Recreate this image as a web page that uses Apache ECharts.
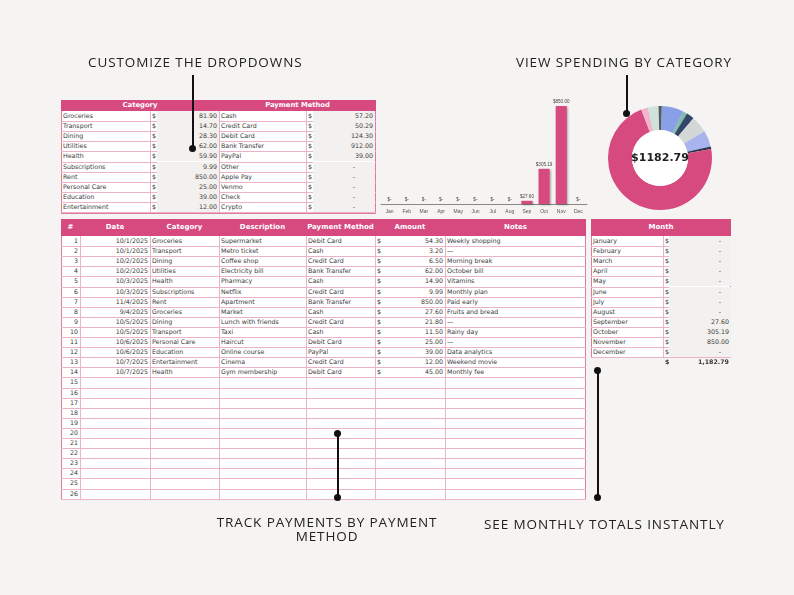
<!DOCTYPE html>
<html><head><meta charset="utf-8">
<script src="https://cdn.jsdelivr.net/npm/echarts@6/dist/echarts.min.js"></script>
<style>
body{margin:0;background:#f6f4f2;width:794px;height:595px;overflow:hidden;font-family:"DejaVu Sans",Verdana,sans-serif;-webkit-font-smoothing:antialiased;}
#chart{position:absolute;left:0;top:0;width:794px;height:595px;}
.t{position:absolute;font-family:"Open Sans",sans-serif;font-size:13.5px;color:#222;letter-spacing:0.9px;}
.c{position:absolute;font-size:6.3px;color:#3a3a3a;white-space:nowrap;overflow:hidden;line-height:10px;box-sizing:border-box;padding:0 2px;}
.h{position:absolute;background:#d64a80;color:#fff;font-weight:bold;font-size:6.8px;text-align:center;box-sizing:border-box;}
.g{position:absolute;background:#fff;box-sizing:border-box;border:1px solid #e07aa0;}
.hl{position:absolute;height:1px;background:#eab3c8;}
.vl{position:absolute;width:1px;background:#eab3c8;}
.ln{position:absolute;width:2px;background:#111;}
.dot{position:absolute;width:7px;height:7px;border-radius:50%;background:#111;}
</style></head><body>
<div id="chart"></div>
<div id="ov"></div>
<script>
const categories=["Groceries","Transport","Dining","Utilities","Health","Subscriptions","Rent","Personal Care","Education","Entertainment"];
const categoryTotals=[81.90,14.70,28.30,62.00,59.90,9.99,850.00,25.00,39.00,12.00];
const payMethods=["Cash","Credit Card","Debit Card","Bank Transfer","PayPal","Other","Apple Pay","Venmo","Check","Crypto"];
const payTotals=[57.20,50.29,124.30,912.00,39.00,0,0,0,0,0];
const months=["January","February","March","April","May","June","July","August","September","October","November","December"];
const monthShort=["Jan","Feb","Mar","Apr","May","Jun","Jul","Aug","Sep","Oct","Nov","Dec"];
const monthTotals=[0,0,0,0,0,0,0,0,27.60,305.19,850.00,0];
const txDates=["10/1/2025","10/1/2025","10/2/2025","10/2/2025","10/3/2025","10/3/2025","11/4/2025","9/4/2025","10/5/2025","10/5/2025","10/6/2025","10/6/2025","10/7/2025","10/7/2025"];
const txCats=["Groceries","Transport","Dining","Utilities","Health","Subscriptions","Rent","Groceries","Dining","Transport","Personal Care","Education","Entertainment","Health"];
const txDesc=["Supermarket","Metro ticket","Coffee shop","Electricity bill","Pharmacy","Netflix","Apartment","Market","Lunch with friends","Taxi","Haircut","Online course","Cinema","Gym membership"];
const txPay=["Debit Card","Cash","Credit Card","Bank Transfer","Cash","Credit Card","Bank Transfer","Cash","Credit Card","Cash","Debit Card","PayPal","Credit Card","Debit Card"];
const txAmt=[54.30,3.20,6.50,62.00,14.90,9.99,850.00,27.60,21.80,11.50,25.00,39.00,12.00,45.00];
const txNotes=["Weekly shopping","—","Morning break","October bill","Vitamins","Monthly plan","Paid early","Fruits and bread","—","Rainy day","—","Data analytics","Weekend movie","Monthly fee"];
const sliceColors=["#8aa0e6","#7fbfa8","#34476b","#d3d8d6","#a9b4ee","#2c3550","#d64a80","#f2b6cc","#cfe3dc","#555b5e"];

const ov=document.getElementById('ov');
function el(cls,x,y,w,h,txt,extra){const d=document.createElement('div');d.className=cls;d.style.left=x+'px';d.style.top=y+'px';if(w!=null)d.style.width=w+'px';if(h!=null)d.style.height=h+'px';if(txt!=null)d.textContent=txt;if(extra)Object.assign(d.style,extra);ov.appendChild(d);return d;}
const fmt=v=>v?v.toLocaleString('en-US',{minimumFractionDigits:2,maximumFractionDigits:2}):'-';

(function(){const x0=61,y0=100,w=315,rh=10.1;el('g',x0,y0,w,11+rh*10+2);
el('h',x0,y0,158,11,'Category',{lineHeight:'11px'});el('h',x0+158,y0,157,11,'Payment Method',{lineHeight:'11px'});
for(let i=0;i<10;i++){const y=y0+11+i*rh;el('hl',x0,y+rh,w,null);
el('c',x0,y,89,rh,categories[i]);el('c',x0+89,y,20,rh,'$');el('c',x0+96,y,62,rh,fmt(categoryTotals[i]),{textAlign:'right',background:'#f3f1f0'});
el('c',x0+158,y,87,rh,payMethods[i]);el('c',x0+245,y,20,rh,'$');el('c',x0+252,y,62,rh,fmt(payTotals[i]),{textAlign:'right',paddingRight:payTotals[i]?'2px':'20px',background:'#f3f1f0'});}
[89,158,245].forEach(o=>el('vl',x0+o,y0+11,null,rh*10));})();

(function(){const x0=61,y0=219,w=525,hh=17,rh=10.1;el('g',x0,y0,w,hh+rh*26+1);
const cols=[0,19,89,158,245,314,384,525];const heads=['#','Date','Category','Description','Payment Method','Amount','Notes'];
heads.forEach((t,i)=>el('h',x0+cols[i],y0,cols[i+1]-cols[i],hh,t,{lineHeight:hh+'px',fontSize:'7px'}));
for(let i=0;i<26;i++){const y=y0+hh+i*rh;el('hl',x0,y+rh,w,null);
el('c',x0,y,19,rh,String(i+1),{textAlign:'right'});
if(i<14){el('c',x0+19,y,70,rh,txDates[i],{textAlign:'right'});el('c',x0+89,y,69,rh,txCats[i]);el('c',x0+158,y,87,rh,txDesc[i]);el('c',x0+245,y,69,rh,txPay[i]);
el('c',x0+314,y,20,rh,'$');el('c',x0+320,y,64,rh,fmt(txAmt[i]),{textAlign:'right'});el('c',x0+384,y,141,rh,txNotes[i]);}}
cols.slice(1,7).forEach(o=>el('vl',x0+o,y0+hh,null,rh*26));})();

(function(){const x0=591,y0=219,w=140,hh=17,rh=10.1;el('g',x0,y0,w,hh+rh*12+1);
el('h',x0,y0,w,hh,'Month',{lineHeight:hh+'px',fontSize:'7px'});
for(let i=0;i<12;i++){const y=y0+hh+i*rh;el('hl',x0,y+rh,w,null);
el('c',x0,y,72,rh,months[i]);el('c',x0+72,y,20,rh,'$');el('c',x0+78,y,62,rh,fmt(monthTotals[i]),{textAlign:'right',paddingRight:monthTotals[i]?'2px':'10px',background:'#f3f1f0'});}
el('vl',x0+72,y0+hh,null,rh*12);
const tot=monthTotals.reduce((a,b)=>a+b,0);
el('c',x0+72,y0+hh+rh*12,20,rh,'$',{fontWeight:'bold'});el('c',x0+78,y0+hh+rh*12,62,rh,fmt(tot),{textAlign:'right',fontWeight:'bold'});})();

el('t',88,53,null,null,'CUSTOMIZE THE DROPDOWNS');
el('t',516,53,null,null,'VIEW SPENDING BY CATEGORY');
el('t',192,515,270,null,'TRACK PAYMENTS BY PAYMENT METHOD',{textAlign:'center',lineHeight:'14px'});
el('t',484,515,null,null,'SEE MONTHLY TOTALS INSTANTLY');
el('ln',192,75,null,73);el('dot',189,145);
el('ln',626,75,null,38);el('dot',623,110);
el('ln',337,433,null,64);el('dot',334,430);el('dot',334,494);
el('ln',597,370,null,127);el('dot',594,367);el('dot',594,494);

const chart=echarts.init(document.getElementById('chart'),null,{renderer:'canvas'});
const total=categoryTotals.reduce((a,b)=>a+b,0);
chart.setOption({
 animation:false,
 grid:{left:381,top:106,width:206,height:98},
 xAxis:{type:'category',data:monthShort,axisTick:{show:false},axisLine:{lineStyle:{color:'#888'}},axisLabel:{fontSize:5,color:'#555',margin:5}},
 yAxis:{type:'value',min:0,max:850,show:false},
 series:[{type:'bar',data:monthTotals,barWidth:'65%',itemStyle:{color:'#d64a80',shadowColor:'rgba(0,0,0,0.3)',shadowBlur:2,shadowOffsetX:1,shadowOffsetY:1},
  label:{show:true,position:'top',fontSize:4.6,color:'#444',distance:2,formatter:p=>p.value?'$'+p.value.toFixed(2):'$-'}},
 {type:'pie',center:[660,158],radius:[28,52],startAngle:88,clockwise:true,label:{show:false},z:2,
  data:categories.map((c,i)=>({name:c,value:categoryTotals[i],itemStyle:{color:sliceColors[i]}}))}],
 graphic:[{type:'circle',shape:{cx:660,cy:158,r:28},style:{fill:'#fff'},z:10},
  {type:'text',x:660,y:158,style:{text:'$'+total.toFixed(2),font:'bold 11px "DejaVu Sans"',fill:'#222',align:'center',verticalAlign:'middle'},z:11}]
});
</script></body></html>
